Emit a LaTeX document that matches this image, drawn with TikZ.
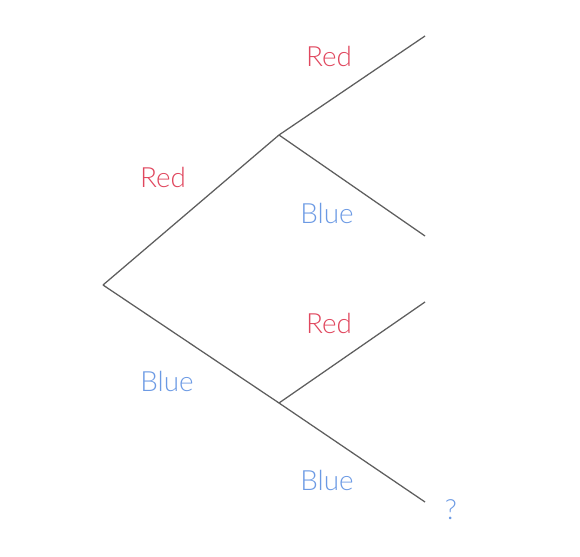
\documentclass[tikz,border=0pt]{standalone}
\usepackage{fontspec}
\setmainfont{Lato}[UprightFont=* Light]
\definecolor{redlab}{HTML}{E0475E}
\definecolor{bluelab}{HTML}{6C9AE4}
\definecolor{branch}{HTML}{5E5E5E}

\begin{document}
\begin{tikzpicture}[x=0.025cm,y=-0.025cm]
  \tikzstyle{lab}=[font=\fontsize{19.8}{22}\selectfont]
  \useasboundingbox (0,0) rectangle (580,557);
  \foreach \name/\x/\y in {root/103/285,up/279/135,down/279/403,
      uu/425/36,ud/425/236,du/425/302,dd/425/502}
    \coordinate (\name) at (\x,\y);
  \foreach \from/\to in {root/up,root/down,up/uu,up/ud,down/du,down/dd}
    \draw[branch,line width=0.9pt] (\from) -- (\to);
  \foreach \name/\lab/\col/\x/\y in {a/Red/redlab/163/177,b/Blue/bluelab/167/381,
      c/Red/redlab/329/56,d/Blue/bluelab/327/213,e/Red/redlab/329/323,f/Blue/bluelab/327/480}
    \node[lab,text=\col] (L-\name) at (\x,\y) {\lab};
  \node[lab,text=bluelab] (q) at (451,510) {?};
\end{tikzpicture}
\end{document}
